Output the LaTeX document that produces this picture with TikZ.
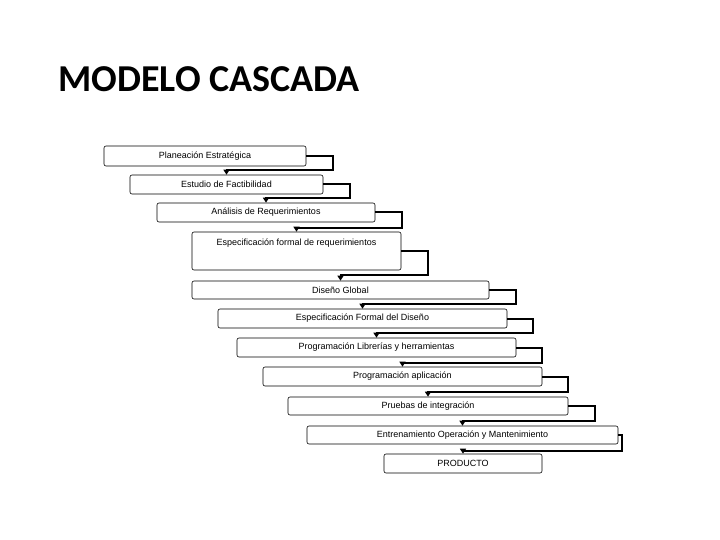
\documentclass[tikz,border=0pt]{standalone}
\usepackage{fontspec}
\setmainfont{Liberation Sans}
\newfontfamily\titlefont{Carlito}
\usetikzlibrary{arrows.meta}
\begin{document}
\begin{tikzpicture}[x=1pt,y=-1pt,
  stepbox/.style={draw=black,line width=0.6pt,rounded corners=2pt,inner sep=0pt,font=\fontsize{9}{10}\selectfont},
  conn/.style={line width=2pt,-{Triangle[length=5pt,width=6pt]}}]
\useasboundingbox (0,0) rectangle (720,540);
\node[font=\titlefont\bfseries\fontsize{38}{40}\selectfont,anchor=west] (title) at (55,79) {MODELO CASCADA};
\newcommand{\mybox}[6]{\node[stepbox,minimum width=#3-#2,minimum height=#5-#4] (#1) at ({(#2+#3)/2},{(#4+#5)/2}) {#6};}
\mybox{b1}{104}{306}{146}{166}{Planeación Estratégica}
\mybox{b2}{130}{323}{175}{194}{Estudio de Factibilidad}
\mybox{b3}{157}{375}{203}{222}{Análisis de Requerimientos}
\node[stepbox,minimum width=209,minimum height=38] (b4) at (296.5,251) {};
\node[font=\fontsize{9}{10}\selectfont] (b4t) at (296.5,243) {Especificación formal de requerimientos};
\mybox{b5}{192}{489}{281}{299}{Diseño Global}
\mybox{b6}{218}{507}{309}{328}{Especificación Formal del Diseño}
\mybox{b7}{237}{516}{338}{357}{Programación Librerías y herramientas}
\mybox{b8}{263}{542}{367}{386}{Programación aplicación}
\mybox{b9}{288}{568}{397}{415}{Pruebas de integración}
\mybox{b10}{307}{618}{426}{444}{Entrenamiento Operación y Mantenimiento}
\mybox{b11}{384}{542}{454}{473}{PRODUCTO}
\coordinate (t1) at (333,170);
\coordinate (t2) at (350,198);
\coordinate (t3) at (402,228);
\coordinate (t4) at (428,275);
\coordinate (t5) at (516,304);
\coordinate (t6) at (533,333);
\coordinate (t7) at (542,363);
\coordinate (t8) at (568,392);
\coordinate (t9) at (595,421);
\coordinate (t10) at (622,451);
\draw[conn] (b1.east) -| (t1) -| (b2.north);
\draw[conn] (b2.east) -| (t2) -| (b3.north);
\draw[conn] (b3.east) -| (t3) -| (b4.north);
\draw[conn] (b4.east) -| (t4) -| (b5.north);
\draw[conn] (b5.east) -| (t5) -| (b6.north);
\draw[conn] (b6.east) -| (t6) -| (b7.north);
\draw[conn] (b7.east) -| (t7) -| (b8.north);
\draw[conn] (b8.east) -| (t8) -| (b9.north);
\draw[conn] (b9.east) -| (t9) -| (b10.north);
\draw[conn] (b10.east) -| (t10) -| (b11.north);
\end{tikzpicture}
\end{document}
